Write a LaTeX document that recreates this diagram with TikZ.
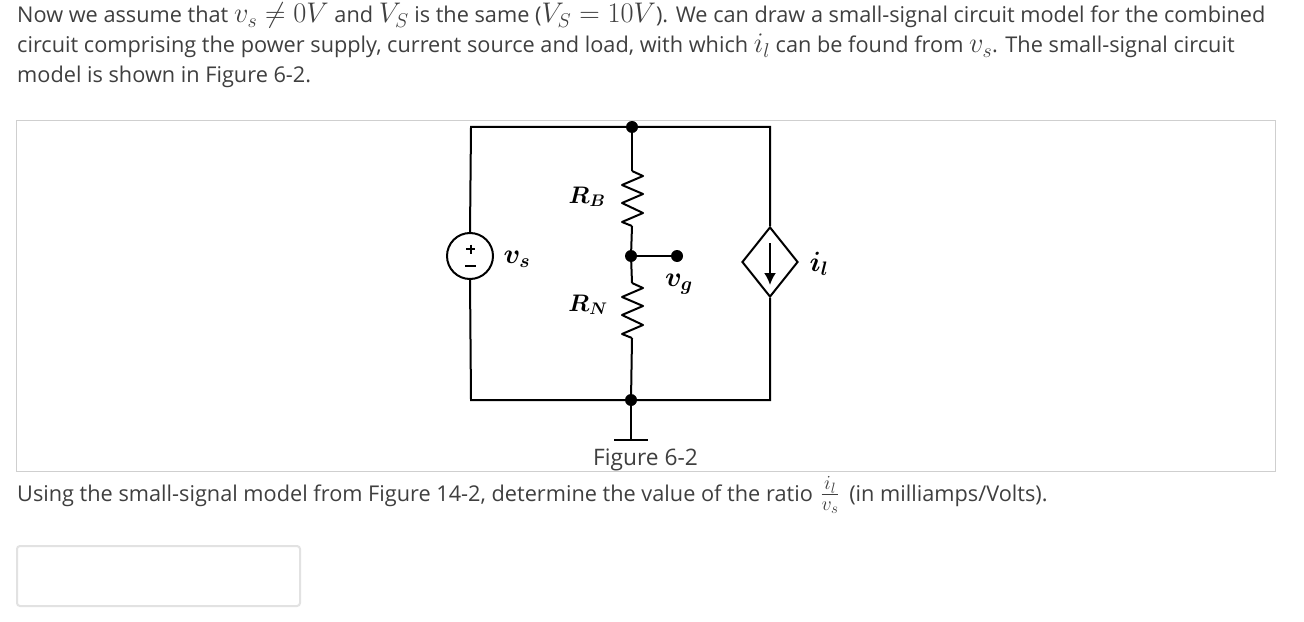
\RequirePackage{fix-cm}
\documentclass[tikz,border=0pt]{standalone}
\usepackage{fontspec}
\setmainfont{Open Sans}
\usetikzlibrary{arrows.meta,shapes.geometric}
\DeclareMathSizes{21.8}{28.5}{20}{15}
\definecolor{txt}{HTML}{3F3F3F}
\definecolor{frame}{HTML}{CFCFCF}
\definecolor{inputb}{HTML}{E2E2E2}
\newcommand{\zigres}[2]{% x, top y
  \draw[wire,line join=round] (#1,#2) -- ++(11,5) -- ++(-21,9) -- ++(21,9) -- ++(-21,9) -- ++(21,10) -- ++(-21,9) -- ++(10,4);}
\tikzset{
  wire/.style={draw=black,line width=2bp},
  para/.style={anchor=base west,inner sep=0pt,text=txt,font=\fontsize{21.8}{24}\selectfont},
  lab/.style={anchor=center,inner sep=0pt,text=black,font=\fontsize{24}{27}\selectfont\boldmath},
  labv/.style={anchor=center,inner sep=0pt,text=black,font=\fontsize{28}{31}\selectfont\boldmath},
  dot/.style={circle,fill=black,inner sep=0pt,minimum size=12bp},
  tip/.style={-{Latex[length=12bp,width=12bp]}}
}
\begin{document}
\begin{tikzpicture}[x=1bp,y=-1bp]
\useasboundingbox (0,0) rectangle (1304,622);
\fill[white] (0,0) rectangle (1304,622);
\node[para] (l1) at (17,23) {Now we assume that $v_s\neq 0V$ and $V_S$ is the same ($V_S=10V$). We can draw a small-signal circuit model for the combined};
\node[para] (l2) at (17,53) {circuit comprising the power supply, current source and load, with which $i_l$ can be found from $v_s$. The small-signal circuit};
\node[para] (l3) at (17,83) {model is shown in Figure 6-2.};
\draw[frame,line width=0.8pt] (16,120.5) rectangle (1275,471.5);
% nodes
\node[dot] (top) at (632,127) {};
\node[dot] (mid) at (631,256) {};
\node[dot] (vgd) at (677,256) {};
\node[dot] (bot) at (631,400) {};
\node[circle,wire,minimum size=46bp,inner sep=0pt] (src) at (470,256) {};
\node[diamond,wire,minimum width=56bp,minimum height=70bp,inner sep=0pt,aspect=0.8] (cs) at (770,262) {};
\coordinate (tl) at (471,127);
\coordinate (tr) at (770,127);
\coordinate (bl) at (471,400);
\coordinate (br) at (770,400);
\coordinate (rbt) at (632,171);
\coordinate (rbb) at (632,226);
\coordinate (rnt) at (632,283);
\coordinate (rnb) at (632,338);
\coordinate (gnd) at (631,440);
\coordinate (gl) at (614,440);
\coordinate (gr) at (648,440);
\coordinate (at) at (770,243);
\coordinate (ab) at (770,285);
% wires
\draw[wire,line join=miter] (src.north) -- (tl) -- (top) -- (tr) -- (cs.north);
\draw[wire,line join=miter] (src.south) -- (bl) -- (bot) -- (br) -- (cs.south);
\draw[wire] (top) -- (rbt);
\zigres{632}{171}
\draw[wire] (rbb) -- (mid) -- (rnt);
\draw[wire] (mid) -- (vgd);
\zigres{632}{283}
\draw[wire] (rnb) -- (bot);
\draw[wire] (bot) -- (gnd);
\draw[wire] (gl) -- (gr);
\draw[wire,tip] (at) -- (ab);
% source signs
\draw[black,line width=2bp] (466,249) -- (475,249) (470.5,244.5) -- (470.5,253.5);
\draw[black,line width=2bp] (465,266) -- (476,266);
% labels
\node[labv] (lvs) at (517,259) {$v_s$};
\node[lab] (lrb) at (587,197) {$R_B$};
\node[lab] (lrn) at (588,305) {$R_N$};
\node[labv] (lvg) at (679,284) {$v_g$};
\node[labv] (lil) at (819,264) {$i_l$};
\node[para,font=\fontsize{22.8}{26}\selectfont] (cap) at (593,465) {Figure 6-2};
\node[para] (l4) at (17,501) {Using the small-signal model from Figure 14-2, determine the value of the ratio\hspace{2bp} $\frac{i_l}{v_s}$\hspace{4bp} (in milliamps/Volts).};
\draw[inputb,line width=2bp,rounded corners=3bp,fill=white] (17,546) rectangle (300,606);
\end{tikzpicture}
\end{document}
